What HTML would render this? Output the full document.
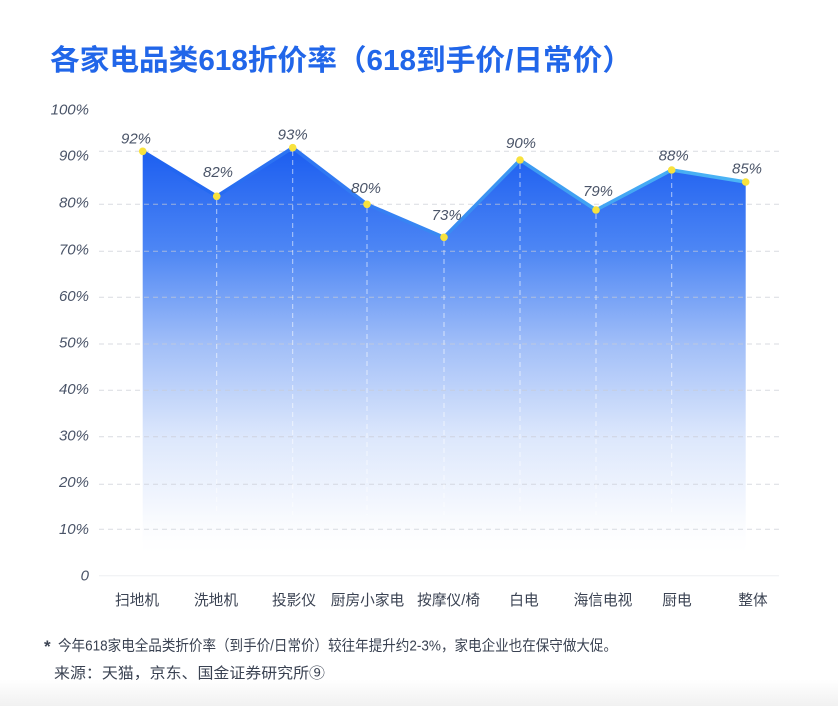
<!DOCTYPE html>
<html>
<head>
<meta charset="utf-8">
<style>
  html,body{margin:0;padding:0;background:#fff;}
  body{width:838px;height:706px;overflow:hidden;}
  svg{display:block;}
  .cjk{font-family:"Liberation Sans","Noto Sans CJK SC",sans-serif;}
  .num{font-family:"Liberation Sans","Noto Sans CJK SC",sans-serif;font-style:italic;}
</style>
</head>
<body>
<svg width="838" height="706" viewBox="0 0 838 706" xmlns="http://www.w3.org/2000/svg">
  <defs>
    <linearGradient id="fillg" gradientUnits="userSpaceOnUse" x1="0" y1="147" x2="0" y2="560">
      <stop offset="0" stop-color="#1b5df0"/>
      <stop offset="0.25" stop-color="#4d86f4"/>
      <stop offset="0.48" stop-color="#a2bff8"/>
      <stop offset="0.70" stop-color="#dce7fc"/>
      <stop offset="0.88" stop-color="#f5f8fe"/>
      <stop offset="1" stop-color="#ffffff" stop-opacity="0"/>
    </linearGradient>
    <linearGradient id="lineg" gradientUnits="userSpaceOnUse" x1="142" y1="0" x2="746" y2="0">
      <stop offset="0" stop-color="#1f62f0"/>
      <stop offset="0.4" stop-color="#3680f3"/>
      <stop offset="0.65" stop-color="#3d9cf2"/>
      <stop offset="1" stop-color="#4cb6f5"/>
    </linearGradient>
    <linearGradient id="bottomg" x1="0" y1="0" x2="0" y2="1">
      <stop offset="0" stop-color="#ffffff"/>
      <stop offset="1" stop-color="#f1f1f1"/>
    </linearGradient>
  </defs>

  <rect x="0" y="0" width="838" height="706" fill="#ffffff"/>
  <rect x="0" y="680" width="838" height="26" fill="url(#bottomg)"/>

  <!-- Title -->
  <text x="50" y="70" class="cjk" font-size="29" font-weight="bold" fill="#2166e9" textLength="582" lengthAdjust="spacingAndGlyphs">各家电品类618折价率（618到手价/日常价）</text>

  <!-- Area fill -->
  <polygon points="142.7,151.3 216.7,196.3 292.7,147.7 367,204.3 444,237.3 520,160 596,210 671.7,170 745.7,182 745.7,575 142.7,575" fill="url(#fillg)"/>

  <!-- Gridlines -->
  <g stroke="#c9ccd4" stroke-opacity="0.7" stroke-width="1" stroke-dasharray="5,4">
    <line x1="99" y1="151.3" x2="779" y2="151.3"/>
    <line x1="99" y1="204.3" x2="779" y2="204.3"/>
    <line x1="99" y1="251.3" x2="779" y2="251.3"/>
    <line x1="99" y1="297.3" x2="779" y2="297.3"/>
    <line x1="99" y1="344" x2="779" y2="344"/>
    <line x1="99" y1="390.3" x2="779" y2="390.3"/>
    <line x1="99" y1="436.7" x2="779" y2="436.7"/>
    <line x1="99" y1="484.3" x2="779" y2="484.3"/>
    <line x1="99" y1="529.3" x2="779" y2="529.3"/>
  </g>
  <line x1="99" y1="575.7" x2="779" y2="575.7" stroke="#eeeff2" stroke-width="1"/>

  <!-- Vertical dashed lines -->
  <g stroke="#ffffff" stroke-opacity="0.6" stroke-width="1" stroke-dasharray="5,4">
    <line x1="216.7" y1="200" x2="216.7" y2="515"/>
    <line x1="292.7" y1="151" x2="292.7" y2="515"/>
    <line x1="367" y1="208" x2="367" y2="515"/>
    <line x1="444" y1="241" x2="444" y2="515"/>
    <line x1="520" y1="164" x2="520" y2="515"/>
    <line x1="596" y1="214" x2="596" y2="515"/>
    <line x1="671.7" y1="174" x2="671.7" y2="515"/>
  </g>

  <!-- Line -->
  <polyline points="142.7,151.3 216.7,196.3 292.7,147.7 367,204.3 444,237.3 520,160 596,210 671.7,170 745.7,182" fill="none" stroke="url(#lineg)" stroke-width="3.5" stroke-linejoin="round" stroke-linecap="round"/>

  <!-- Dots -->
  <g fill="#f8e23e">
    <circle cx="142.7" cy="151.3" r="3.8"/>
    <circle cx="216.7" cy="196.3" r="3.8"/>
    <circle cx="292.7" cy="147.7" r="3.8"/>
    <circle cx="367" cy="204.3" r="3.8"/>
    <circle cx="444" cy="237.3" r="3.8"/>
    <circle cx="520" cy="160" r="3.8"/>
    <circle cx="596" cy="210" r="3.8"/>
    <circle cx="671.7" cy="170" r="3.8"/>
    <circle cx="745.7" cy="182" r="3.8"/>
  </g>

  <!-- Data labels -->
  <g class="num" font-size="15" fill="#4a5468" text-anchor="middle">
    <text x="136" y="143.5">92%</text>
    <text x="218" y="177">82%</text>
    <text x="292.7" y="139.5">93%</text>
    <text x="366" y="193">80%</text>
    <text x="446.7" y="220">73%</text>
    <text x="521" y="148">90%</text>
    <text x="598" y="196">79%</text>
    <text x="673.7" y="160.5">88%</text>
    <text x="747" y="173.5">85%</text>
  </g>

  <!-- Y-axis labels -->
  <g class="num" font-size="15" fill="#4a5468" text-anchor="end">
    <text x="89" y="114.5">100%</text>
    <text x="89" y="160.5">90%</text>
    <text x="89" y="207.5">80%</text>
    <text x="89" y="254.5">70%</text>
    <text x="89" y="301">60%</text>
    <text x="89" y="347.5">50%</text>
    <text x="89" y="394">40%</text>
    <text x="89" y="440.5">30%</text>
    <text x="89" y="487">20%</text>
    <text x="89" y="534">10%</text>
    <text x="89" y="580.5">0</text>
  </g>

  <!-- Category labels -->
  <g class="cjk" font-size="14.7" fill="#3a4252" text-anchor="middle">
    <text x="137" y="605">扫地机</text>
    <text x="216" y="605">洗地机</text>
    <text x="294" y="605">投影仪</text>
    <text x="367.5" y="605">厨房小家电</text>
    <text x="448.6" y="605">按摩仪/椅</text>
    <text x="524" y="605">白电</text>
    <text x="603" y="605">海信电视</text>
    <text x="677" y="605">厨电</text>
    <text x="753" y="605">整体</text>
  </g>

  <!-- Footnotes -->
  <text x="44" y="652" class="cjk" font-size="17" font-weight="bold" fill="#3a4252">*</text>
  <text x="58" y="650.5" class="cjk" font-size="15" fill="#3a4252" textLength="559" lengthAdjust="spacingAndGlyphs">今年618家电全品类折价率（到手价/日常价）较往年提升约2-3%，家电企业也在保守做大促。</text>
  <text x="54" y="678" class="cjk" font-size="15" fill="#3a4252" textLength="271" lengthAdjust="spacingAndGlyphs">来源：天猫，京东、国金证券研究所⑨</text>
</svg>
</body>
</html>
